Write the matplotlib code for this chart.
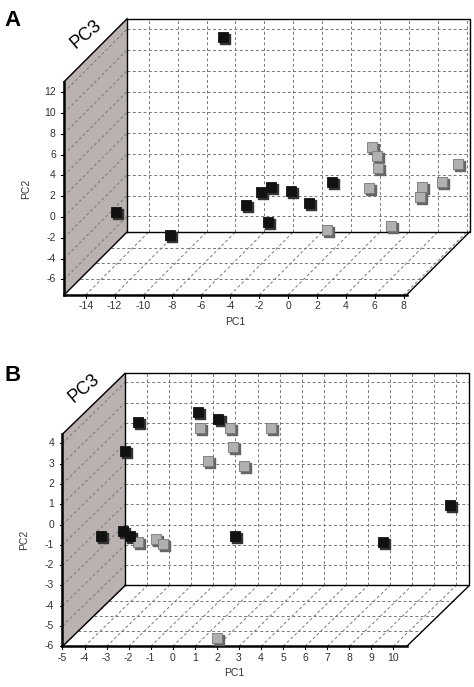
import matplotlib.pyplot as plt

# panel A: screen coords in front-plane units (PC1 along front axis, PC2 along front axis)
a_black_pc1 = [-4.5, -11.9, -8.2, -2.9, -1.9, -1.2, -1.4, 0.2, 1.45, 3.05]
a_black_pc2 = [17.3, 0.5, -1.7, 1.15, 2.4, 2.9, -0.5, 2.5, 1.35, 3.4]
a_gray_pc1 = [2.7, 5.8, 6.15, 6.2, 5.6, 7.15, 9.3, 9.15, 10.65, 11.75]
a_gray_pc2 = [-1.25, 6.7, 5.9, 4.7, 2.8, -0.9, 2.9, 1.9, 3.4, 5.1]
a_xticks = list(range(-14, 9, 2))
a_yticks = list(range(-6, 13, 2))

# panel B
b_black_pc1 = [1.13, 2.07, -1.56, -2.16, -3.25, -2.27, -1.93, 2.82, 9.52, 12.56]
b_black_pc2 = [5.56, 5.18, 5.07, 3.62, -0.57, -0.3, -0.57, -0.57, -0.88, 0.96]
b_gray_pc1 = [1.24, 2.6, 4.44, 2.72, 1.61, 3.23, -1.59, -0.76, -0.45, 1.99]
b_gray_pc2 = [4.74, 4.77, 4.74, 3.83, 3.14, 2.9, -0.88, -0.71, -0.98, -5.58]
b_xticks = list(range(-5, 11))
b_yticks = list(range(-6, 5))

plt.rcParams['font.family'] = ['Liberation Sans', 'DejaVu Sans']
fig = plt.figure(figsize=(4.74, 6.87), dpi=100)


def panel(ax, x0, x1, y0, y1, dx, dy, xt, yt, blk, gry, msz):
    kw = dict(color='#777777', lw=0.7, ls=(0, (3, 2.5)))
    # left wall
    ax.fill([x0, x0, x0 + dx, x0 + dx], [y0, y1, y1 + dy, y0 + dy], color='#bab2b0', zorder=1)
    for t in yt:
        ax.plot([x0, x0 + dx], [t, t + dy], zorder=2, **kw)
    # floor grid
    for t in xt:
        ax.plot([t, t + dx], [y0, y0 + dy], zorder=2, **kw)
    for f in [0.25, 0.5, 0.75]:
        ax.plot([x0 + f * dx, x1 + f * dx], [y0 + f * dy, y0 + f * dy], zorder=2, **kw)
    # back wall grid
    bx0, bx1, by0, by1 = x0 + dx, x1 + dx, y0 + dy, y1 + dy
    for t in xt:
        if bx0 < t + dx < bx1:
            ax.plot([t + dx, t + dx], [by0, by1], zorder=2, **kw)
    for t in list(yt) + [yt[-1] + (yt[1] - yt[0])]:
        if by0 < t + dy < by1:
            ax.plot([bx0, bx1], [t + dy, t + dy], zorder=2, **kw)
    # solid frame
    lk = dict(color='black', lw=1.0, zorder=3)
    ax.plot([x0, x0], [y0, y1], lw=1.8, color='black', zorder=3)
    ax.plot([x0, x1], [y0, y0], lw=1.8, color='black', zorder=3)
    ax.plot([x0, bx0], [y1, by1], **lk)
    ax.plot([x0, bx0], [y0, by0], **lk)
    ax.plot([x1, bx1], [y0, by0], **lk)
    ax.plot([bx0, bx1, bx1, bx0, bx0], [by0, by0, by1, by1, by0], **lk)
    # ticks
    tx = (x1 - x0) * 0.008
    ty = (y1 - y0) * 0.012
    for t in xt:
        ax.plot([t, t], [y0, y0 - ty], color='black', lw=0.8, zorder=3)
        ax.text(t, y0 - 2.5 * ty, str(t), ha='center', va='top', fontsize=7.5, color='#333333')
    for t in yt:
        ax.plot([x0, x0 - tx], [t, t], color='black', lw=0.8, zorder=3)
        ax.text(x0 - 3 * tx, t, str(t), ha='right', va='center', fontsize=7.5, color='#333333')
    ax.text((x0 + x1) / 2, y0 - 8.5 * ty, 'PC1', ha='center', va='top', fontsize=7.5, color='#333333')
    ax.text(x0 - 14 * tx, (y0 + y1) / 2, 'PC2', ha='center', va='center', rotation=90,
            fontsize=7.5, color='#333333')
    ax.text(x0 + dx * 0.35, y1 + dy * 0.75, 'PC3', ha='center', va='center', rotation=40,
            fontsize=13)
    # markers with shadow
    sx, sy = (x1 - x0) * 0.006, (y1 - y0) * 0.009
    for px, py, fc, ec, sc in [(gry[0], gry[1], '#b0b0b0', '#777777', '#666666'),
                               (blk[0], blk[1], '#111111', '#111111', '#333333')]:
        ax.scatter([p + sx for p in px], [p - sy for p in py], s=msz, marker='s',
                   color=sc, zorder=4)
        ax.scatter(px, py, s=msz, marker='s', facecolor=fc, edgecolor=ec, lw=0.6, zorder=5)


axA = fig.add_axes([0, 1 - 340 / 687, 1, 340 / 687])
axA.set_xlim(-19.93, 12.87)
axA.set_ylim(-11.83, 20.87)
axA.axis('off')
panel(axA, -15.5, 8.2, -7.5, 13.0, 4.36, 6.06, a_xticks, a_yticks,
      (a_black_pc1, a_black_pc2), (a_gray_pc1, a_gray_pc2), 55)

axB = fig.add_axes([0, 0, 1, 347 / 687])
axB.set_xlim(-7.83, 13.65)
axB.set_ylim(-8.0, 9.09)
axB.axis('off')
panel(axB, -5.0, 10.6, -6.0, 4.45, 2.84, 3.0, b_xticks, b_yticks,
      (b_black_pc1, b_black_pc2), (b_gray_pc1, b_gray_pc2), 55)

fig.text(0.01, 0.985, 'A', fontsize=16, fontweight='bold', va='top')
fig.text(0.01, 1 - 365 / 687, 'B', fontsize=16, fontweight='bold', va='top')

fig.savefig('out.png', dpi=100)
